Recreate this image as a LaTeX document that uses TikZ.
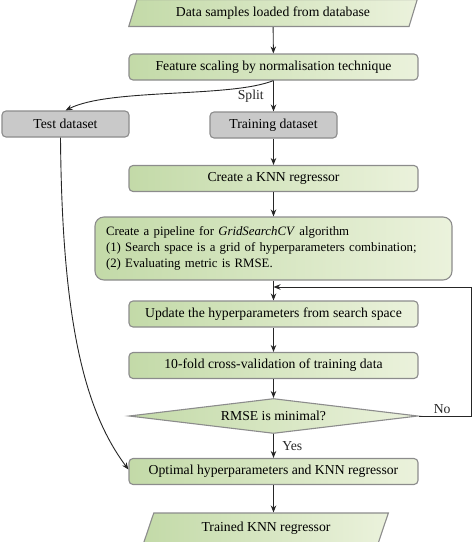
\documentclass[tikz,border=0pt]{standalone}
\usepackage{fontspec}
\setmainfont{Liberation Serif}
\usetikzlibrary{shapes.geometric, arrows.meta}

\definecolor{leafdark}{HTML}{C3DAA8}
\definecolor{leaflight}{HTML}{EBF2DC}
\definecolor{edgegrey}{HTML}{8C8C8C}
\definecolor{boxgrey}{HTML}{C9C9C9}

\begin{document}
\begin{tikzpicture}[>={Stealth[length=7pt, width=5.5pt]}, x=1pt, y=-1pt,
    every node/.style={font=\fontsize{13.7}{16}\selectfont},
    proc/.style={draw=edgegrey, line width=1.1pt, rounded corners=4pt, left color=leafdark, right color=leaflight, minimum width=289pt, minimum height=26pt, inner sep=0pt},
    dataio/.style={trapezium, trapezium left angle=65, trapezium right angle=115, trapezium stretches=true, draw=edgegrey, line width=1.1pt, left color=leafdark, right color=leaflight, minimum width=289pt, minimum height=27pt, inner sep=0pt},
    greybox/.style={draw=edgegrey, line width=1.1pt, rounded corners=4pt, fill=boxgrey, minimum width=127pt, minimum height=26pt, inner sep=0pt},
    decide/.style={diamond, shape aspect=8.3, draw=edgegrey, line width=1.1pt, left color=leafdark, right color=leaflight, minimum width=289pt, minimum height=35pt, inner sep=0pt},
    link/.style={->, line width=0.9pt, black!85}]
\useasboundingbox (0,0) rectangle (474,542);

\node[dataio] (data) at (273,13) {Data samples loaded from database};
\node[proc] (scale) at (273.5,67) {Feature scaling by normalisation technique};
\node[greybox] (test) at (65.5,124) {Test dataset};
\node[greybox] (train) at (273.5,125) {Training dataset};
\node[proc] (knn) at (273.5,178.5) {Create a KNN regressor};
\node[proc, rounded corners=9pt, minimum width=357pt, minimum height=63pt, text width=335pt, inner xsep=11pt, align=left, font=\fontsize{12.8}{16}\selectfont] (pipe) at (273.5,248.5)
    {Create a pipeline for \textit{GridSearchCV} algorithm\\
     (1) Search space is a grid of hyperparameters combination;\\
     (2) Evaluating metric is RMSE.};
\node[proc] (update) at (273.5,314) {Update the hyperparameters from search space};
\node[proc] (cv) at (273.5,365.5) {10-fold cross-validation of training data};
\node[decide] (rmse) at (273.5,416) {RMSE is minimal?};
\node[proc] (opt) at (273.5,471.5) {Optimal hyperparameters and KNN regressor};
\node[dataio, minimum width=245pt, minimum height=30pt] (trained) at (266,528) {Trained KNN regressor};

\coordinate (loop) at (471,287);

\draw[link] (data) -- (scale);
\draw[link] (scale.south) -- node[left=6pt] {Split} (train.north);
\draw[link] (scale.south) .. controls (230,98) and (110,88) .. (test.north);
\draw[link] (train) -- (knn);
\draw[link] (knn) -- (pipe);
\draw[link] (pipe) -- (update);
\draw[link] (update) -- (cv);
\draw[link] (cv) -- (rmse);
\draw[link] (rmse) -- node[right=5pt] {Yes} (opt);
\draw[link] (opt.south) -- (opt.south |- trained.north);
\draw[link] (rmse.east) -- node[above=-1pt, pos=0.45] {No} (rmse.east -| loop) -- (loop) -- (pipe.south |- loop);
\draw[link] ([xshift=-5pt]test.south) .. controls (62,320) and (84,410) .. ([yshift=2pt]opt.west);

\end{tikzpicture}
\end{document}
